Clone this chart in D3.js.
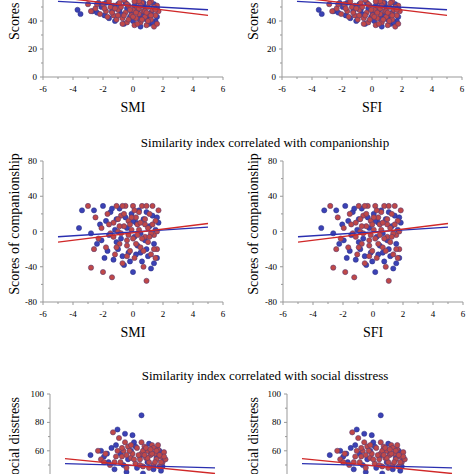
<!DOCTYPE html>
<html lang="en">
<head>
<meta charset="UTF-8">
<title>similarity index</title>
<style>
body{margin:0;background:#fff}
text{font-family:"Liberation Serif","DejaVu Serif",serif}
</style>
</head>
<body>
<script src="https://cdn.jsdelivr.net/npm/d3@7"></script>
<script>
// titles and labels
var rowTitles = ["", "Similarity index correlated with companionship", "Similarity index correlated with social disstress"];
var yLabels = ["Scores of loneliness", "Scores of companionship", "Scores of social disstress"];
var xLabels = ["SMI", "SFI"];
var xTicks = [-6, -4, -2, 0, 2, 4, 6];

// regression lines per row: [x0, y0, x1, y1]
var blueLines = [[-5, 54, 5, 48], [-5, -6, 5, 5], [-5, 51, 5, 48]];
var redLines = [[-5, 57, 5, 44], [-5, -12, 5, 9], [-5, 54.5, 5, 44]];

// scatter points per row (x, score)
var blue1 = [[-3.7,48],[-3.5,45],[-2.7,47],[-2.4,46],[-2.1,50],[-1.9,44],[-1.6,42],[-1.4,47],[-1.2,40],[-1,52],[-0.8,45],[-0.6,38],[-0.4,49],[-0.2,43],[0,40],[0.2,54],[0.3,47],[0.5,36],[0.6,44],[0.8,50],[0.9,41],[1.1,38],[1.2,46],[1.4,52],[1.5,40],[1.6,49],[-1.8,53],[-0.9,48],[0.1,51],[1,44],[-1.3,51],[-0.5,53],[0.4,42],[1.3,39],[-2.3,53],[0.7,53],[-0.1,46],[1.6,43]];
var red1 = [[-3,52],[-2.8,47],[-2.5,49],[-2.2,45],[-2,52],[-1.8,47],[-1.7,43],[-1.5,50],[-1.3,44],[-1.1,41],[-1,48],[-0.9,53],[-0.7,42],[-0.5,46],[-0.4,39],[-0.3,51],[-0.1,44],[0,48],[0.1,37],[0.2,42],[0.3,50],[0.4,45],[0.5,39],[0.6,53],[0.7,47],[0.8,43],[0.9,37],[1,50],[1.1,45],[1.2,41],[1.3,48],[1.4,36],[1.5,44],[1.6,51],[1.7,47],[-1.6,54],[-0.6,55],[0.4,54],[1.2,54],[-2.4,52],
  [-1.4,46],[-1.2,49],[-0.8,50],[-0.6,44],[-0.4,52],[-0.2,48],[0,43],[0.2,46],[0.4,49],[0.6,41],[0.8,47],[1,40],[1.2,44],[1.4,50],[1.6,38],[-1.9,49],[-0.3,41],[0.5,51],[1.1,53],[-1,44],[0.1,54],[0.9,46],[1.5,48],[-0.7,38],[0.3,38]];
var blue2 = [[-3.6,4],[-3.4,24],[-2.8,-2],[-2.6,24],[-2.4,-14],[-2.2,8],[-2,29],[-1.9,-30],[-1.8,12],[-1.6,-4],[-1.5,22],[-1.3,-32],[-1.2,2],[-1.1,14],[-1,-20],[-0.9,26],[-0.8,-8],[-0.6,-38],[-0.5,16],[-0.4,4],[-0.3,-24],[-0.1,20],[0,-46],[0.1,-6],[0.2,10],[0.3,-16],[0.4,24],[0.5,-2],[0.6,-34],[0.7,14],[0.8,-10],[0.9,22],[1,-28],[1.1,6],[1.2,-42],[1.3,18],[1.4,-14],[1.5,2],[1.6,-30],[1.7,10],[-1.4,26],[0.2,-26],
  [-1.7,-22],[-0.7,-28],[0.5,-24],[1.4,-36],[-1.1,-12],[0,12],[0.9,-20],[1.6,16],[-2.1,-10],[-0.2,-34]];
var red2 = [[-3,29],[-2.8,-41],[-2.6,-20],[-2.5,16],[-2.3,-8],[-2.1,4],[-2,-46],[-1.8,-18],[-1.7,20],[-1.5,-2],[-1.4,-52],[-1.3,10],[-1.2,-26],[-1.1,29],[-1,0],[-0.9,-14],[-0.8,18],[-0.7,-36],[-0.6,6],[-0.5,29],[-0.4,-10],[-0.3,12],[-0.2,-22],[-0.1,2],[0,29],[0.1,-30],[0.2,16],[0.3,-4],[0.4,22],[0.5,-18],[0.6,29],[0.7,-40],[0.8,8],[0.9,-56],[1,-12],[1.1,20],[1.2,-26],[1.3,29],[1.4,-4],[1.5,12],[1.6,-20],[1.7,24],[0.3,8],[-0.4,-28],[0.8,-6],
  [-1.6,8],[-1.3,-6],[-1,14],[-0.8,-2],[-0.6,20],[-0.4,-16],[-0.2,8],[0,-8],[0.2,-14],[0.4,2],[0.6,-8],[0.8,14],[1,4],[1.2,-2],[1.4,-20],[1.6,0],[-0.9,6],[-0.1,16],[0.5,10],[1.1,-6],[-0.3,-4],[0.7,-22],[1.3,8],[-1.1,-18],[0.1,24],[0.9,29],[-0.7,29],[1.5,-30]];
var blue3 = [[-3.3,57],[-2.6,60],[-2.4,56],[-2.1,52],[-1.9,62],[-1.6,64],[-1.5,75],[-1.3,58],[-1.1,50],[-1,72],[-0.8,54],[-0.6,60],[-0.5,71],[-0.4,66],[-0.2,48],[0,56],[0.1,85],[0.3,61],[0.5,52],[0.7,58],[0.9,47],[1.1,55],[1.3,60],[1.5,49],[1.6,54],[-2.2,58],[-0.3,63],[0.6,65],[-1.7,47],[-0.9,45],[0.2,44],[1.4,46]];
var red3 = [[-2.8,60],[-2.6,54],[-2.3,58],[-2,50],[-1.8,73],[-1.6,56],[-1.4,69],[-1.3,52],[-1.1,60],[-0.9,48],[-0.8,63],[-0.6,55],[-0.5,58],[-0.3,51],[-0.2,62],[0,54],[0.1,58],[0.2,49],[0.3,63],[0.4,55],[0.5,60],[0.6,52],[0.7,57],[0.8,64],[0.9,50],[1,58],[1.1,54],[1.2,61],[1.3,49],[1.4,56],[1.5,52],[1.6,59],[1.7,54],[-1,66],[0.1,66],[0.9,62],
  [-1.5,60],[-1.2,56],[-0.7,60],[-0.4,54],[-0.1,57],[0.2,60],[0.5,55],[0.8,58],[1.1,60],[1.4,52],[1.6,56],[-1.7,52],[-0.9,57],[0,50],[0.4,62],[0.7,61],[1,52],[1.3,57],[-2.4,52],[-0.6,64],[0.3,57],[1.2,64],[-1.2,62],[0.6,48]];

var blueData = [blue1, blue2, blue3];
var redData = [red1, red2, red3];

// layout: per row y domain, pixel range, panel left x offsets
var rows = [
  {dom: [0, 100], r: [77, -63], tick: 20, minor: 10, title: 0, lab: 40, anchor: "start", panels: [43, 282], labX: [13, 252]},
  {dom: [-80, 80], r: [302, 161], tick: 40, minor: 20, title: 142, lab: 224, anchor: "middle", panels: [43, 283], labX: [13, 252]},
  {dom: [0, 100], r: [536, 394], tick: 20, minor: 10, title: 375, lab: 397, anchor: "end", panels: [50, 287], labX: [13, 252]}
];

var svg = d3.select("body").append("svg").attr("width", 474).attr("height", 474);
var axisColor = "#999";

rows.forEach(function(row, ri) {
  if (rowTitles[ri]) {
    svg.append("text").attr("x", 265).attr("y", row.title + 5)
      .attr("text-anchor", "middle").attr("font-size", 13).text(rowTitles[ri]);
  }
  var y = d3.scaleLinear().domain(row.dom).range(row.r);
  row.panels.forEach(function(px, pi) {
    var x = d3.scaleLinear().domain([-6, 6]).range([px, px + 180]);
    var g = svg.append("g");
    var y0 = y(row.dom[0]);
    // y axis
    g.append("line").attr("x1", px).attr("x2", px).attr("y1", y(row.dom[1])).attr("y2", y0).attr("stroke", axisColor);
    d3.range(row.dom[0], row.dom[1] + 0.1, row.minor).forEach(function(v) {
      var major = (v - row.dom[0]) % row.tick === 0;
      g.append("line").attr("x1", px - (major ? 3 : 2)).attr("x2", px).attr("y1", y(v)).attr("y2", y(v)).attr("stroke", axisColor);
      if (major && y(v) > 6 && y(v) < 470) g.append("text").attr("x", px - 6).attr("y", y(v) + 3).attr("text-anchor", "end").attr("font-size", 9).text(v);
    });
    // x axis
    if (y0 < 474) {
      g.append("line").attr("x1", px).attr("x2", px + 180).attr("y1", y0).attr("y2", y0).attr("stroke", axisColor);
      d3.range(-6, 6.1, 1).forEach(function(v) {
        g.append("line").attr("x1", x(v)).attr("x2", x(v)).attr("y1", y0).attr("y2", y0 + (v % 2 === 0 ? 3 : 2)).attr("stroke", axisColor);
      });
      xTicks.forEach(function(v) {
        g.append("text").attr("x", x(v)).attr("y", y0 + 15).attr("text-anchor", "middle").attr("font-size", 9).text(v);
      });
      g.append("text").attr("x", px + 90).attr("y", y0 + 35).attr("text-anchor", "middle").attr("font-size", 14).text(xLabels[pi]);
    }
    // y label
    g.append("text").attr("transform", "translate(" + (row.labX[pi] + 6) + "," + row.lab + ") rotate(-90)")
      .attr("text-anchor", row.anchor).attr("font-size", 14).text(yLabels[ri]);
    // points
    var shift = pi === 0 ? 0 : 0.15;
    g.selectAll(".b").data(blueData[ri]).enter().append("circle")
      .attr("cx", function(d) { return x(d[0] + shift); }).attr("cy", function(d) { return y(d[1]); })
      .attr("r", 2.6).attr("fill", "#3b42b5").attr("stroke", "#2a2f80").attr("stroke-width", 0.5);
    g.selectAll(".r").data(redData[ri]).enter().append("circle")
      .attr("cx", function(d) { return x(d[0] + shift); }).attr("cy", function(d) { return y(d[1]); })
      .attr("r", 2.6).attr("fill", "#c04848").attr("stroke", "#5a3a70").attr("stroke-width", 0.6);
    // regression lines
    [[blueLines[ri], "#2a2fb0"], [redLines[ri], "#d02828"]].forEach(function(l) {
      var d = l[0];
      g.append("line").attr("x1", x(d[0])).attr("y1", y(d[1])).attr("x2", x(d[2])).attr("y2", y(d[3]))
        .attr("stroke", l[1]).attr("stroke-width", 1.4);
    });
  });
});
</script>
</body>
</html>
